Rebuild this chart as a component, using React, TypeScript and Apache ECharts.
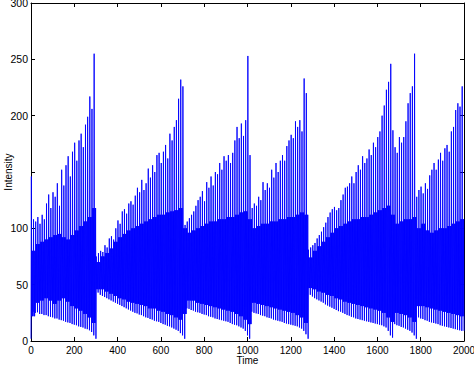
import React, { useEffect, useRef } from "react";
import * as echarts from "echarts";

// Time step of the readings (one spike per step)
const STEP = 10;

// Spike peak heights, one per 10 time units (t = 0 .. 1990)
const peakA = [146,108,106,110,104,112,108,122,130,118, 132,128,140,120,152,138,156,164,146,168, 176,160,178,184,172,192,199,217,206,255];
const peakB = [75,78,80,79,85,83,91,93,90,100, 107,104,115,117,113,122,124,121,129,136, 132,143,134,140,153,145,156,150,165,167, 158,168,174,162,184,178,190,196,215,232, 226];
const peakC = [103,106,109,112,115,120,125,128,133,124, 141,136,146,138,150,148,158,152,164,160, 165,158,167,178,190,180,193,182,196,253];
const peakD = [165,118,122,120,128,125,141,134,140,136, 152,145,158,150,160,165,160,173,178,183, 180,195,190,196,186,233,220];
const peakE = [81,83,85,87,91,94,97,101,105,110, 114,117,119,116,118,125,130,136,137,140, 146,140,150,156,152,164,158,162,170,165, 176,172,181,186,200,209,223,230,246];
const peakF = [187,172,167,181,176,181,195,211,220,226,255];
const peakG = [128,134,137,131,140,135,147,152,158,152, 161,167,160,171,174,168,186,190,205,211, 208,226];

// Lower envelope (troughs), one per 10 time units
const lowA = [2,26,25,25.5,24,24,23,23,22,21.5, 21,20,20,19,18.5,18,17,16.5,16,15, 14.5,14,13,12.5,12,11,10.5,9.5,8,5];
const lowB = [2,43,41,40,39,38,37,36,35,34, 33,32,31,30,29,28,27,26,25,24.5, 23.5,23,22,21,20.5,19.5,19,18,17.5,17, 16,15,14.5,13.5,13,12,11,10,9,7, 5];
const lowC = [2,29,28.5,27.5,27,26,25.5,25,24,23.5, 23,22,21.5,21,20,19.5,19,18.5,18,17.5, 17,16,15,14.5,14,13,12,11,9,5];
const lowD = [2,26,25,24.5,24,23,22.5,22,21,20.5, 20,19,18.5,18,17.5,17,16,15.5,15,14.5, 14,13.5,13,12,11,9,6];
const lowE = [2,41,39.5,38,37,36,35,34,32.5,31.5, 30.5,29.5,28.5,27.5,26.5,26,25,24,23,22.5, 21.5,21,20,19.5,19,18.5,18,17.5,17,16.5, 16,15.5,15,14.5,14,13,12,9,5];
const lowF = [3,15,14,13.5,12.5,12,11,10,9,7.5,5];
const lowG = [2,21,20,19.5,18.5,18,17,16.5,16,15.5, 15,14,13.5,13,12.5,12,11.5,11,10.5,10, 9.5,9];

// Bottom of the dense band, one per 20 time units
const subVals = [
  22,34,36,38,36,33,36,38,35,31,29,27,24,21,16,
  46,46,44,42,40,38,37,35,34,33,32,31,29,29,27,26,24,23,21,19,24,
  36,36,34,33,32,31,30,29,28,27,26,24,22,19,15,
  34,33,32,31,30,29,28,27,26,25,23,21,16,
  47,46,44,43,41,40,38,37,35,34,33,32,31,30,29,28,27,25,21,
  17,
  25,24,23,21,17,
  31,31,30,29,28,27,26,25,24,23,22,
];

// Top of the dense band, one per 20 time units
const midVals = [
  80,86,88,90,92,94,95,92,90,94,98,102,106,110,118,
  70,75,78,82,88,92,95,98,100,102,104,106,108,110,112,112,114,115,116,118,100,
  96,98,100,102,104,106,106,108,108,110,110,112,114,115,108,
  100,102,104,104,106,106,108,108,110,110,112,114,112,
  74,80,84,88,92,96,100,102,104,106,108,108,110,110,112,114,116,118,120,
  112,
  104,106,108,108,110,
  100,104,98,96,98,100,100,102,104,106,108,
];

// Y tick labels shown in the reference (150 is covered by the axis title there)
const yLabelsShown = [0, 50, 100, 200, 250, 300];

const peaks = [...peakA, ...peakB, ...peakC, ...peakD, ...peakE, ...peakF, ...peakG];
const lows = [...lowA, ...lowB, ...lowC, ...lowD, ...lowE, ...lowF, ...lowG];

const xTicks = { min: 0, max: 2000, interval: 200 };
const yTicks = { min: 0, max: 300, interval: 50 };

function buildSeries(): [number, number][] {
  const out: [number, number][] = [];
  const d = STEP / 6;
  for (let i = 0; i < peaks.length; i++) {
    const t = i * STEP;
    const j = Math.floor(i / 2);
    out.push([t, lows[i]]);
    out.push([t + d, peaks[i]]);
    out.push([t + 2 * d, subVals[j]]);
    out.push([t + 3 * d, midVals[j]]);
    out.push([t + 4 * d, subVals[j]]);
    out.push([t + 5 * d, midVals[j]]);
  }
  out.push([peaks.length * STEP, lows[lows.length - 1]]);
  return out;
}

const FONT = "Liberation Sans, Arial, Helvetica, sans-serif";
const plain = (v: number) => String(v);
const yLabel = (v: number) => (yLabelsShown.includes(v) ? String(v) : "");

export default function App() {
  const ref = useRef<HTMLDivElement>(null);
  useEffect(() => {
    if (!ref.current) return;
    const chart = echarts.init(ref.current, null, { renderer: "svg" });
    const axisLine = { show: true, onZero: false, lineStyle: { color: "#000", width: 1 } };
    const tick = { show: true, inside: true, length: 4, lineStyle: { color: "#000", width: 1 } };
    chart.setOption({
      animation: false,
      backgroundColor: "#fff",
      grid: { left: 31, right: 10, top: 3, bottom: 24, containLabel: false, outerBoundsMode: "none" },
      xAxis: [
        {
          type: "value", ...xTicks, position: "bottom",
          axisLine, axisTick: tick, splitLine: { show: false },
          axisLabel: { color: "#000", fontSize: 10, fontFamily: FONT, margin: 4, formatter: plain },
          name: "Time", nameLocation: "middle", nameGap: 14, nameMoveOverlap: false,
          nameTextStyle: { color: "#000", fontSize: 10, fontFamily: FONT },
        },
        {
          type: "value", ...xTicks, position: "top",
          axisLine, axisTick: tick, splitLine: { show: false },
          axisLabel: { show: false },
        },
      ],
      yAxis: [
        {
          type: "value", ...yTicks, position: "left",
          axisLine, axisTick: tick, splitLine: { show: false },
          axisLabel: { color: "#000", fontSize: 10.5, fontFamily: FONT, margin: 3, formatter: yLabel },
          name: "Intensity", nameLocation: "middle", nameGap: 18, nameMoveOverlap: false,
          nameTextStyle: { color: "#000", fontSize: 10, fontFamily: FONT },
        },
        {
          type: "value", ...yTicks, position: "right",
          axisLine, axisTick: tick, splitLine: { show: false },
          axisLabel: { show: false },
        },
      ],
      series: [
        {
          type: "line",
          data: buildSeries(),
          xAxisIndex: 0,
          yAxisIndex: 0,
          showSymbol: false,
          symbol: "none",
          lineStyle: { color: "#0000ff", width: 0.9, join: "bevel" },
          itemStyle: { color: "#0000ff" },
        },
      ],
    });
    return () => chart.dispose();
  }, []);
  return (
    <div
      ref={ref}
      style={{ position: "fixed", left: 0, top: 0, width: 474, height: 365, background: "#fff" }}
    />
  );
}
